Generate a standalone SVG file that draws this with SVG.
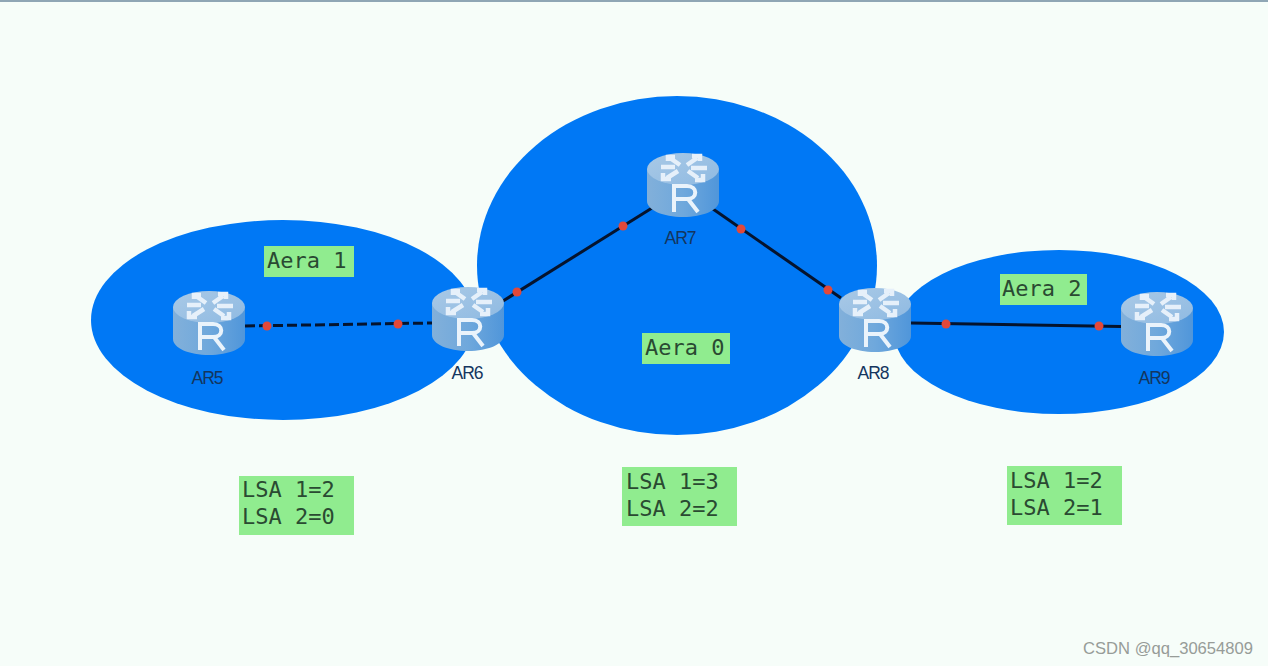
<svg xmlns="http://www.w3.org/2000/svg" width="1268" height="666" viewBox="0 0 1268 666">
<style>
.area{fill:#0078f5}
.lbl{fill:#90ec8f}
.t{font-family:"DejaVu Sans Mono","Liberation Mono",monospace;font-size:22px;fill:#2a4a32}
.name{font-family:"Liberation Sans",Arial,sans-serif;font-size:17.500px;fill:#14365f;text-anchor:middle;letter-spacing:-1px}
.link{stroke:#05142e;stroke-width:3;fill:none}
.dot{fill:#e2483a}
.wm{font-family:"Liberation Sans",Arial,sans-serif;font-size:16.600px;fill:#979c98}
</style>
<defs>
<linearGradient id="body" x1="0" x2="1" y1="0" y2="0">
<stop offset="0" stop-color="#82b0da"/><stop offset=".5" stop-color="#6fa8dc"/><stop offset="1" stop-color="#5096da"/>
</linearGradient>
<linearGradient id="top" x1="0" x2="1" y1="0" y2="1">
<stop offset="0" stop-color="#a9c9e6"/><stop offset="1" stop-color="#8fbae2"/>
</linearGradient>
<g id="router">
<path d="M-36-16V16C-36 25-20 32 0 32S36 25 36 16V-16Z" fill="url(#body)"/>
<ellipse cx="0" cy="-16" rx="36" ry="16" fill="url(#top)"/>
<g stroke="#e6f0fa" stroke-width="4.500" fill="none">
<path d="M-3-20L-13-27M-8-28H-15V-24"/>
<path d="M4-20L14-27M9-29H17V-24"/>
<path d="M-5-14L-16-7M-20-12V-6H-12"/>
<path d="M5-14L15-7M12-5H20V-11"/>
<path d="M-22-18H-8M8-17H24"/>
</g>
<path d="M-9 27V1H4C15 1 15 14 4 14H-7M5 14L15 27" fill="none" stroke="#eaf3fb" stroke-width="4"/>
</g>
</defs>
<rect width="1268" height="666" fill="#f6fdf9"/>
<rect width="1268" height="2" fill="#8fa6b5"/>
<g id="areas">
<ellipse id="area1" class="area" cx="283" cy="320" rx="192" ry="100"/>
<ellipse id="area0" class="area" cx="677" cy="265.500" rx="200" ry="169.500"/>
<ellipse id="area2" class="area" cx="1059" cy="332" rx="165" ry="82"/>
</g>
<g id="connectors">
<line class="link" x1="245" y1="326" x2="432" y2="323" stroke-dasharray="10 4"/>
<line class="link" x1="503" y1="301" x2="652" y2="208"/>
<line class="link" x1="713" y1="209" x2="841" y2="298"/>
<line class="link" x1="911" y1="323" x2="1121" y2="326.500"/>
<circle class="dot" cx="267" cy="326" r="4.500"/>
<circle class="dot" cx="398" cy="324" r="4.500"/>
<circle class="dot" cx="517" cy="292" r="4.500"/>
<circle class="dot" cx="623" cy="226" r="4.500"/>
<circle class="dot" cx="741" cy="229" r="4.500"/>
<circle class="dot" cx="828" cy="290" r="4.500"/>
<circle class="dot" cx="946" cy="324" r="4.500"/>
<circle class="dot" cx="1099" cy="326" r="4.500"/>
</g>
<g id="AR5"><use href="#router" x="209" y="323"/><text class="name" x="207" y="384">AR5</text></g>
<g id="AR6"><use href="#router" x="468" y="319"/><text class="name" x="467" y="379">AR6</text></g>
<g id="AR7"><use href="#router" x="683" y="185"/><text class="name" x="680" y="244">AR7</text></g>
<g id="AR8"><use href="#router" x="875" y="320"/><text class="name" x="873" y="379">AR8</text></g>
<g id="AR9"><use href="#router" x="1157" y="324"/><text class="name" x="1154" y="384">AR9</text></g>
<g id="label-area1"><rect class="lbl" x="264" y="246" width="90" height="31"/><text class="t" x="267" y="268">Aera 1</text></g>
<g id="label-area0"><rect class="lbl" x="642" y="333" width="88" height="31"/><text class="t" x="645" y="355">Aera 0</text></g>
<g id="label-area2"><rect class="lbl" x="1000" y="274" width="87" height="31"/><text class="t" x="1002" y="296">Aera 2</text></g>
<g id="lsa-area1"><rect class="lbl" x="239" y="476" width="115" height="59"/><text class="t" x="242" y="497">LSA 1=2</text><text class="t" x="242" y="524">LSA 2=0</text></g>
<g id="lsa-area0"><rect class="lbl" x="622" y="467" width="115" height="59"/><text class="t" x="626" y="489">LSA 1=3</text><text class="t" x="626" y="516">LSA 2=2</text></g>
<g id="lsa-area2"><rect class="lbl" x="1007" y="466" width="115" height="59"/><text class="t" x="1010" y="488">LSA 1=2</text><text class="t" x="1010" y="515">LSA 2=1</text></g>
<text class="wm" x="1083" y="654">CSDN @qq_30654809</text>
</svg>
